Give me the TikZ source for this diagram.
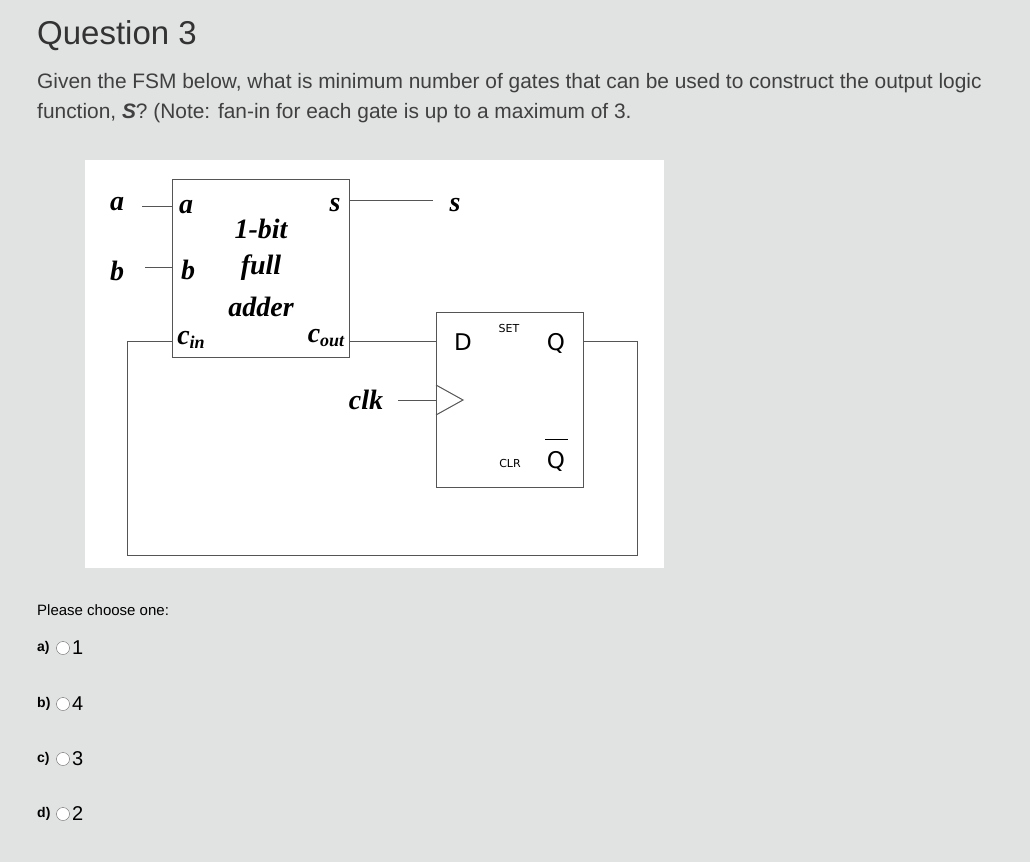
\documentclass[tikz,border=0pt]{standalone}
\usepackage{fontspec}
\setmainfont{Liberation Sans}
\newfontfamily\tms{Liberation Serif}
\newfontfamily\djvfont{DejaVu Sans}
\definecolor{bg}{HTML}{E1E3E2}
\definecolor{wire}{HTML}{555555}
\begin{document}
\begin{tikzpicture}[x=1pt,y=-1pt,
  lbl/.style={inner sep=0pt,font=\tms\bfseries\itshape\fontsize{28}{30}\selectfont},
  txt/.style={inner sep=0pt,anchor=west,font=\fontsize{20.9}{24}\selectfont,text=black!75},
  ffl/.style={inner sep=0pt,font=\djvfont\fontsize{23}{26}\selectfont},
  box/.style={draw=wire,line width=1.2pt},
  w/.style={draw=wire,line width=1pt}]
\fill[bg] (0,0) rectangle (1030,862);
\useasboundingbox (0,0) rectangle (1030,862);
\node[anchor=west,inner sep=0pt,font=\fontsize{33}{36}\selectfont,text=black!80] (q) at (37,36) {Question 3};
\node[txt] (t1) at (37,83) {Given the FSM below, what is minimum number of gates that can be used to construct the output logic};
\node[txt] (t2) at (37,113) {function, \textbf{\textit{S}}? (Note: fan-in for each gate is up to a maximum of 3.};
\fill[white] (85,160) rectangle (664,568);
% adder
\node[box,minimum width=177pt,minimum height=178pt,anchor=north west,inner sep=0pt] (fa) at (172,179) {};
\node[lbl] (fa1) at (261,229) {1-bit};
\node[lbl] (fa2) at (261,268) {full};
\node[lbl] (fa3) at (261,307) {adder};
\node[lbl] (ia) at (186,207) {a};
\node[lbl] (ib) at (188,270) {b};
\node[lbl] (ic) at (191,340) {c\raisebox{-4pt}{\fontsize{18}{20}\selectfont in}};
\node[lbl] (os) at (335,205) {s};
\node[lbl] (oc) at (326,338) {c\raisebox{-4pt}{\fontsize{18}{20}\selectfont out}};
\node[lbl] (xa) at (117,204) {a};
\node[lbl] (xb) at (117,271) {b};
\node[lbl] (xs) at (455,205) {s};
\node[lbl] (clk) at (366,400) {clk};
% FF
\node[box,minimum width=147pt,minimum height=175pt,anchor=north west,inner sep=0pt] (ff) at (436,312) {};
\node[ffl] (D) at (463,342) {D};
\node[inner sep=0pt,font=\djvfont\fontsize{11}{12}\selectfont] (set) at (509,328) {SET};
\node[inner sep=0pt,font=\djvfont\fontsize{11}{12}\selectfont] (clr) at (510,463) {CLR};
\node[ffl] (Q) at (556,343) {Q};
\node[ffl] (Qb) at (556,461) {Q};
\coordinate (ob1) at (545,439); \coordinate (ob2) at (568,439);
\draw[black,line width=1pt] (ob1) -- (ob2);
\coordinate (tri1) at (436,385);
\coordinate (tri2) at (463,400);
\coordinate (tri3) at (436,415);
\draw[wire,line width=1pt] (tri1) -- (tri2) -- (tri3);
% wires
\coordinate (pa) at (172,206); \coordinate (pb) at (172,267);
\coordinate (ps) at (349,200); \coordinate (pse) at (433,200);
\coordinate (pc) at (172,341); \coordinate (pco) at (349,341);
\coordinate (pd) at (436,341); \coordinate (pq) at (583,341);
\coordinate (rr) at (637,341); \coordinate (rb) at (637,555);
\coordinate (lb) at (127,555); \coordinate (lt) at (127,341);
\coordinate (ck) at (398,400); \coordinate (cke) at (436,400);
\draw[w] (142,206) -- (pa);
\draw[w] (145,267) -- (pb);
\draw[w] (ps) -- (pse);
\draw[w] (pco) -- (pd);
\draw[w] (ck) -- (cke);
\draw[w] (pq) -- (rr) -- (rb) -- (lb) -- (lt) -- (pc);
% choices
\node[anchor=west,inner sep=0pt,font=\fontsize{15}{18}\selectfont] (pc1) at (37,610) {Please choose one:};
\foreach \l/\v/\y in {a/1/648, b/4/704, c/3/759, d/2/814}{
  \node[anchor=west,inner sep=0pt,font=\bfseries\fontsize{14}{16}\selectfont] (o\l) at (37,\y) {\l)};
  \node[draw=black!60,circle,minimum size=13pt,inner sep=0pt,fill=white] (r\l) at (63,\y) {};
  \node[anchor=west,inner sep=0pt,font=\fontsize{20}{22}\selectfont] (v\l) at (72,\y) {\v};
}
\end{tikzpicture}
\end{document}
